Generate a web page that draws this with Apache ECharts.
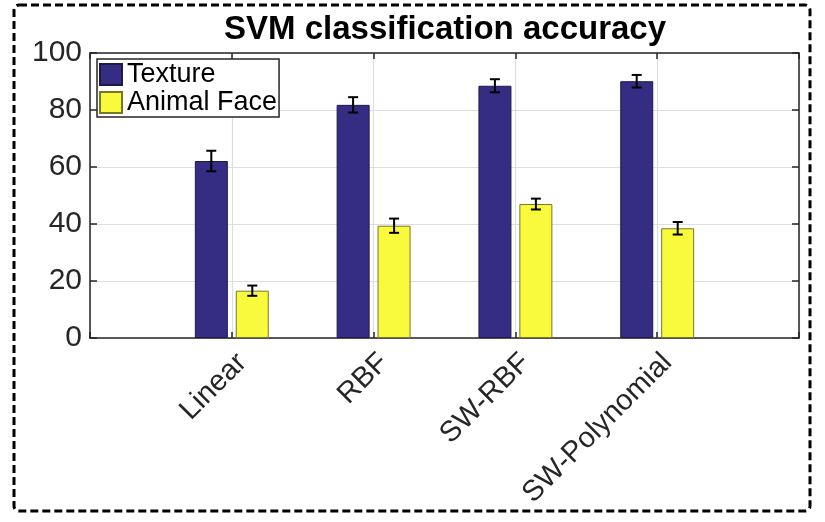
<!DOCTYPE html>
<html>
<head>
<meta charset="utf-8">
<script src="https://cdn.jsdelivr.net/npm/echarts@6/dist/echarts.min.js"></script>
<style>
  html, body { margin: 0; padding: 0; background: #fff; }
  #chart { width: 825px; height: 522px; }
</style>
</head>
<body>
<div id="chart"></div>
<script>
// data
var methods = ['Linear', 'RBF', 'SW-RBF', 'SW-Polynomial'];
var texture = [62.1, 81.8, 88.5, 90.1];
var textureErr = [3.6, 2.7, 2.3, 2.2];
var animal = [16.6, 39.4, 47.0, 38.5];
var animalErr = [1.8, 2.5, 1.9, 2.2];
var yTicks = [0, 20, 40, 60, 80, 100];

// empty slots at both ends, as in the matlab axis (xlim 0..5)
var cats = [''].concat(methods).concat(['']);

var font = 'Liberation Sans, Arial, Helvetica, sans-serif';
var axisColor = '#262626';

function errData(vals, errs) {
  return vals.map(function (v, i) { return [i + 1, v - errs[i], v + errs[i]]; });
}

function errSeries(vals, errs, offset) {
  return {
    type: 'custom',
    silent: true,
    z: 5,
    data: errData(vals, errs),
    renderItem: function (params, api) {
      var lo = api.coord([api.value(0), api.value(1)]);
      var hi = api.coord([api.value(0), api.value(2)]);
      var x = lo[0] + offset;
      var cap = 5;
      var st = { stroke: '#000', lineWidth: 2 };
      return {
        type: 'group',
        children: [
          { type: 'line', shape: { x1: x, y1: lo[1], x2: x, y2: hi[1] }, style: st },
          { type: 'line', shape: { x1: x - cap, y1: lo[1], x2: x + cap, y2: lo[1] }, style: st },
          { type: 'line', shape: { x1: x - cap, y1: hi[1], x2: x + cap, y2: hi[1] }, style: st }
        ]
      };
    }
  };
}

var myChart = echarts.init(document.getElementById('chart'));

var option = {
  animation: false,
  backgroundColor: '#fff',
  title: {
    text: 'SVM classification accuracy',
    left: 219,
    top: 8,
    textStyle: { fontFamily: font, fontSize: 33, fontWeight: 'bold', color: '#000' }
  },
  legend: {
    data: ['Texture', 'Animal Face'],
    orient: 'vertical',
    left: 97,
    top: 59,
    padding: [2, 2, 1, 2],
    itemGap: 1,
    itemWidth: 22,
    itemHeight: 21,
    itemTextGap: 1,
    icon: 'rect',
    borderColor: axisColor,
    borderWidth: 1.5,
    backgroundColor: '#fff',
    selectedMode: false,
    textStyle: { fontFamily: font, fontSize: 27, color: '#000' }
  },
  grid: { left: 90, right: 26, top: 53, bottom: 184, containLabel: false },
  graphic: [{
    type: 'rect',
    shape: { x: 14, y: 5, width: 796, height: 506, r: 5 },
    style: { fill: 'none', stroke: '#000', lineWidth: 3, lineDash: [8, 4] },
    z: 100
  }],
  xAxis: [{
    type: 'category',
    data: cats,
    boundaryGap: false,
    axisLine: { lineStyle: { color: axisColor, width: 1.5 } },
    axisTick: { inside: true, length: 6, lineStyle: { color: axisColor, width: 1.5 } },
    axisLabel: {
      rotate: 45,
      margin: 10,
      verticalAlign: 'top',
      fontFamily: font,
      fontSize: 29,
      color: '#262626',
      interval: 0
    },
    splitLine: { show: true, lineStyle: { color: '#dedede', width: 1.2 } }
  }, {
    type: 'category',
    data: cats,
    position: 'top',
    boundaryGap: false,
    axisLine: { onZero: false, lineStyle: { color: axisColor, width: 1.5 } },
    axisTick: { inside: true, length: 6, lineStyle: { color: axisColor, width: 1.5 } },
    axisLabel: { show: false },
    splitLine: { show: false }
  }],
  yAxis: [{
    type: 'value',
    min: yTicks[0],
    max: yTicks[yTicks.length - 1],
    interval: 20,
    axisLine: { show: true, lineStyle: { color: axisColor, width: 1.5 } },
    axisTick: { show: true, inside: true, length: 7, lineStyle: { color: axisColor, width: 1.5 } },
    axisLabel: { margin: 8, fontFamily: font, fontSize: 30, color: '#262626' },
    splitLine: { show: true, lineStyle: { color: '#dedede', width: 1.2 } }
  }, {
    type: 'value',
    position: 'right',
    min: yTicks[0],
    max: yTicks[yTicks.length - 1],
    interval: 20,
    axisLine: { show: true, onZero: false, lineStyle: { color: axisColor, width: 1.5 } },
    axisTick: { show: true, inside: true, length: 7, lineStyle: { color: axisColor, width: 1.5 } },
    axisLabel: { show: false },
    splitLine: { show: false }
  }],
  series: [
    {
      name: 'Texture',
      type: 'bar',
      barWidth: 33,
      barGap: '24%',
      data: texture.map(function (v, i) { return [i + 1, v]; }),
      itemStyle: { color: '#352C84', borderColor: '#1d1a4a', borderWidth: 1 }
    },
    {
      name: 'Animal Face',
      type: 'bar',
      barWidth: 33,
      barGap: '24%',
      data: animal.map(function (v, i) { return [i + 1, v]; }),
      itemStyle: { color: '#F9FA3C', borderColor: '#77772a', borderWidth: 1 }
    },
    errSeries(texture, textureErr, -20.5),
    errSeries(animal, animalErr, 20.5)
  ]
};

myChart.setOption(option);
</script>
</body>
</html>
